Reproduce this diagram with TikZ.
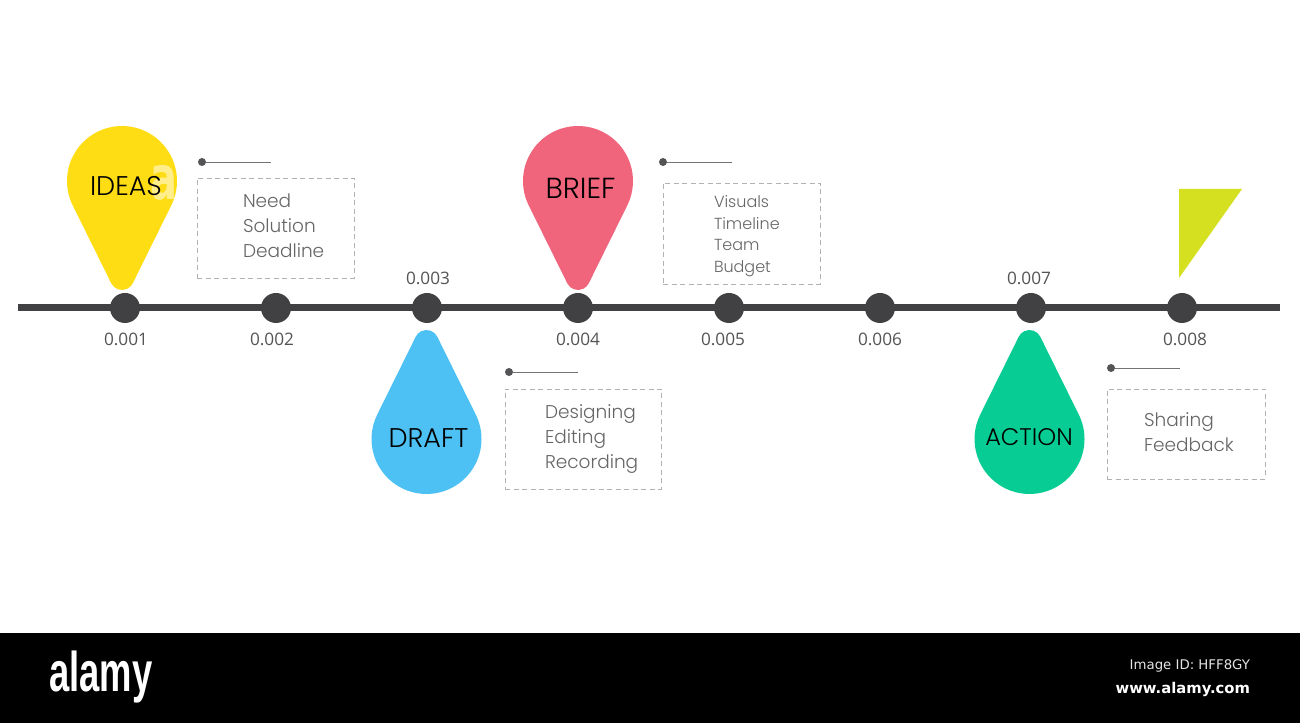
\documentclass[tikz,border=0pt]{standalone}
\usepackage{fontspec}
\setmainfont{Poppins Light}
\newfontfamily\numfont{Open Sans}
\newfontfamily\markfont{DejaVu Sans}
\newfontfamily\logofont{Liberation Sans}
\usetikzlibrary{positioning}
\definecolor{axisgray}{HTML}{414042}
\definecolor{ideascol}{HTML}{FFDD15}
\definecolor{draftcol}{HTML}{4DC1F4}
\definecolor{briefcol}{HTML}{F0647C}
\definecolor{actioncol}{HTML}{07CC93}
\definecolor{flagcol}{HTML}{D5E021}
\newcommand{\DROP}[4]{\fill[#4,shift={(#1,#2)},rotate=#3] (-26.3:55) arc (-26.3:206.3:55) -- (-10.75,-102.3) arc (206.3:333.7:12) -- cycle;}
\begin{document}
\begin{tikzpicture}[x=1pt,y=1pt,
  every node/.style = {inner sep=0pt, outer sep=0pt},
  tick/.style = {circle, fill=axisgray, minimum size=30pt},
  num/.style = {font=\numfont\fontsize{17.2}{20}\selectfont, text=axisgray!90},
  title/.style = {font=\fontsize{27}{30}\selectfont, text=black},
  notebox/.style = {draw=black!30, dash pattern=on 5pt off 3.5pt, line width=.8pt},
  notes/.style = {align=left, text=black!60},
  leaddot/.style = {circle, fill=axisgray!90, minimum size=8pt},
  leadline/.style = {draw=black!55, line width=.7pt},
]
\useasboundingbox (0,0) rectangle (1300,723);
\fill[white] (0,0) rectangle (1300,723);
\fill[black] (0,0) rectangle (1300,90);

% axis
\coordinate (axisl) at (18,415);
\coordinate (axisr) at (1280,415);
\draw[axisgray, line width=7pt] (axisl) -- (axisr);
\node[tick] (t1) at (125,415) {};
\node[tick] (t2) at (276,415) {};
\node[tick] (t3) at (427,415) {};
\node[tick] (t4) at (578,415) {};
\node[tick] (t5) at (729,415) {};
\node[tick] (t6) at (880,415) {};
\node[tick] (t7) at (1031,415) {};
\node[tick] (t8) at (1182,415) {};
\node[num] (n1) at (126,384) {0.001};
\node[num] (n2) at (272,384) {0.002};
\node[num] (n3) at (428,445) {0.003};
\node[num] (n4) at (578,384) {0.004};
\node[num] (n5) at (723,384) {0.005};
\node[num] (n6) at (880,384) {0.006};
\node[num] (n7) at (1029,445) {0.007};
\node[num] (n8) at (1185,384) {0.008};

% pins
\DROP{122}{542}{0}{ideascol}
\DROP{578}{542}{0}{briefcol}
\DROP{426.5}{284}{180}{draftcol}
\DROP{1029.5}{284}{180}{actioncol}
\node[font=\markfont\bfseries\fontsize{42}{42}\selectfont, text=white, opacity=.5] (ghost) at (163.5,540) {\scalebox{.95}[1.45]{a}};
\node[title] (ideas) at (126,537) {IDEAS};
\node[title, font=\fontsize{29}{30}\selectfont] (brief) at (580.5,535) {BRIEF};
\node[title] (draft) at (428.5,285) {DRAFT};
\node[title, font=\fontsize{24}{30}\selectfont] (action) at (1029,286) {ACTION};

% flag
\fill[flagcol] (1179,534) -- (1242,534) -- (1179,445) -- cycle;

% note boxes
\node[notebox, minimum width=157pt, minimum height=100pt] (box1) at (275.5,495) {};
\node[notebox, minimum width=157pt, minimum height=101pt] (box2) at (741.5,489.5) {};
\node[notebox, minimum width=156pt, minimum height=100pt] (box3) at (583,284) {};
\node[notebox, minimum width=158pt, minimum height=90pt] (box4) at (1186,289) {};
\node[notes, right=46pt of box1.west, yshift=2pt, font=\fontsize{18.5}{25}\selectfont] (txt1) {Need\\Solution\\Deadline};
\node[notes, right=51pt of box2.west, yshift=-2.5pt, font=\fontsize{16}{21.6}\selectfont] (txt2) {Visuals\\Timeline\\Team\\Budget};
\node[notes, right=40pt of box3.west, yshift=-.5pt, font=\fontsize{18.5}{25}\selectfont] (txt3) {Designing\\Editing\\Recording};
\node[notes, right=37pt of box4.west, yshift=2pt, font=\fontsize{18.5}{25}\selectfont] (txt4) {Sharing\\Feedback};

% leaders
\node[leaddot] (lead1) at (202,561) {};
\node[leaddot] (lead2) at (663,561) {};
\node[leaddot] (lead3) at (509,351) {};
\node[leaddot] (lead4) at (1111,355) {};
\coordinate[right=69pt of lead1.center] (end1);
\coordinate[right=69pt of lead2.center] (end2);
\coordinate[right=69pt of lead3.center] (end3);
\coordinate[right=69pt of lead4.center] (end4);
\draw[leadline] (lead1) -- (end1);
\draw[leadline] (lead2) -- (end2);
\draw[leadline] (lead3) -- (end3);
\draw[leadline] (lead4) -- (end4);

% stock photo bar
\node[text=white, font=\logofont\bfseries\fontsize{56}{60}\selectfont] (logo) at (101,46) {\scalebox{.65}[1]{alamy}};
\node[text=white!90!black, font=\markfont\fontsize{13.3}{15}\selectfont, anchor=east] (imgid) at (1250,57) {Image ID: HFF8GY};
\node[text=white, font=\markfont\bfseries\fontsize{14.8}{16}\selectfont, anchor=east] (site) at (1250,34) {www.alamy.com};
\end{tikzpicture}
\end{document}
